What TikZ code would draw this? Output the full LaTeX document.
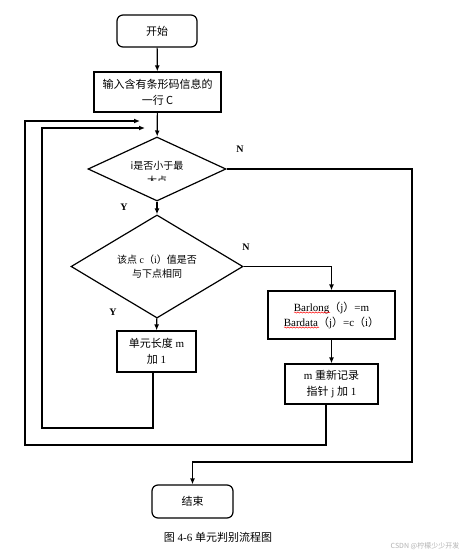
\documentclass[tikz,border=0pt]{standalone}
\usepackage{fontspec}
\setmainfont{Liberation Serif}
\newfontfamily\cjk{Noto Sans CJK SC}
\usetikzlibrary{shapes.geometric,arrows.meta,decorations.pathmorphing}
\begin{document}
\begin{tikzpicture}[x=1pt,y=-1pt,
  box/.style={draw,line width=1.2pt,align=center,inner sep=0pt,font=\fontsize{11}{16}\selectfont},
  term/.style={box,rounded corners=6pt},
  dia/.style={draw,line width=1.2pt,diamond,inner sep=0pt},
  arr/.style={line width=1.2pt,-{Latex[length=6pt,width=5pt]}},
  lbl/.style={font=\fontsize{10}{12}\selectfont\bfseries},
  wavy/.style={red,line width=0.5pt,decorate,decoration={snake,segment length=3pt,amplitude=0.6pt}}]
\useasboundingbox (0,0) rectangle (474,554);
\fill[white] (0,0) rectangle (474,554);

\node[term,minimum width=80pt,minimum height=32pt] (start) at (157,31) {\cjk 开始};
\node[box,minimum width=127pt,minimum height=40pt] (input) at (157.5,92) {\cjk 输入含有条形码信息的\\\cjk 一行 C};
\node[dia,minimum width=138pt,minimum height=64pt] (d1) at (157,169) {};
\begin{scope}
  \clip (95,150) rectangle (220,180.5);
  \node[align=center,font=\fontsize{10}{15}\selectfont] (d1t) at (157,173.5) {\cjk i是否小于最\\\cjk 大点};
\end{scope}
\node[dia,minimum width=172pt,minimum height=79pt,align=center,font=\fontsize{10}{14}\selectfont] (d2) at (157,266.5) {{\cjk 该点} c{\cjk （}i{\cjk ）}{\cjk 值是否}\\\cjk 与下点相同};
\node[box,minimum width=79pt,minimum height=41pt] (unit) at (156.5,351.5) {{\cjk 单元长度} m\\{\cjk 加} 1};
\node[box,minimum width=127pt,minimum height=48pt,font=\fontsize{11}{15}\selectfont] (bar) at (331.5,315) {Barlong{\cjk （}j{\cjk ）}=m\\Bardata{\cjk （}j{\cjk ）}=c{\cjk （}i{\cjk ）}};
\node[box,minimum width=93pt,minimum height=40pt] (rec) at (331.5,384) {m {\cjk 重新记录}\\{\cjk 指针} j {\cjk 加} 1};
\node[term,minimum width=81pt,minimum height=33pt] (end) at (192.5,501.5) {\cjk 结束};

\draw[wavy] (294,312.5) -- (330,312.5);
\draw[wavy] (284,327.5) -- (319,327.5);

\coordinate (ia) at (145,128);
\coordinate (il) at (42,428);
\coordinate (oa) at (140,121);
\coordinate (ol) at (25,445);
\coordinate (nr) at (412,462);

\draw[arr] (start) -- (input);
\draw[arr] (input) -- (d1);
\draw[arr] (d1) -- (d2);
\draw[arr] (d2) -- (unit);
\draw[arr] (d2.east) -| (bar.north);
\draw[arr] (bar) -- (rec);
\draw[arr] (d1.east) -- (d1.east -| nr) -- (nr) -| (end.north);
\draw[arr] ([xshift=-3.5pt]unit.south) |- (il) |- (ia);
\draw[arr] ([xshift=-5.5pt]rec.south) |- (ol) |- (oa);

\node[lbl] (n1) at (240,149) {N};
\node[lbl] (y1) at (124,207) {Y};
\node[lbl] (n2) at (246,247) {N};
\node[lbl] (y2) at (113,312) {Y};

\node[font=\fontsize{11}{13}\selectfont] (cap) at (218,537) {{\cjk 图} 4-6 {\cjk 单元判别流程图}};
\node[font=\fontsize{7}{8}\selectfont\cjk,text=black!30] (wm) at (425,546) {CSDN @柠檬少少开发};
\end{tikzpicture}
\end{document}
